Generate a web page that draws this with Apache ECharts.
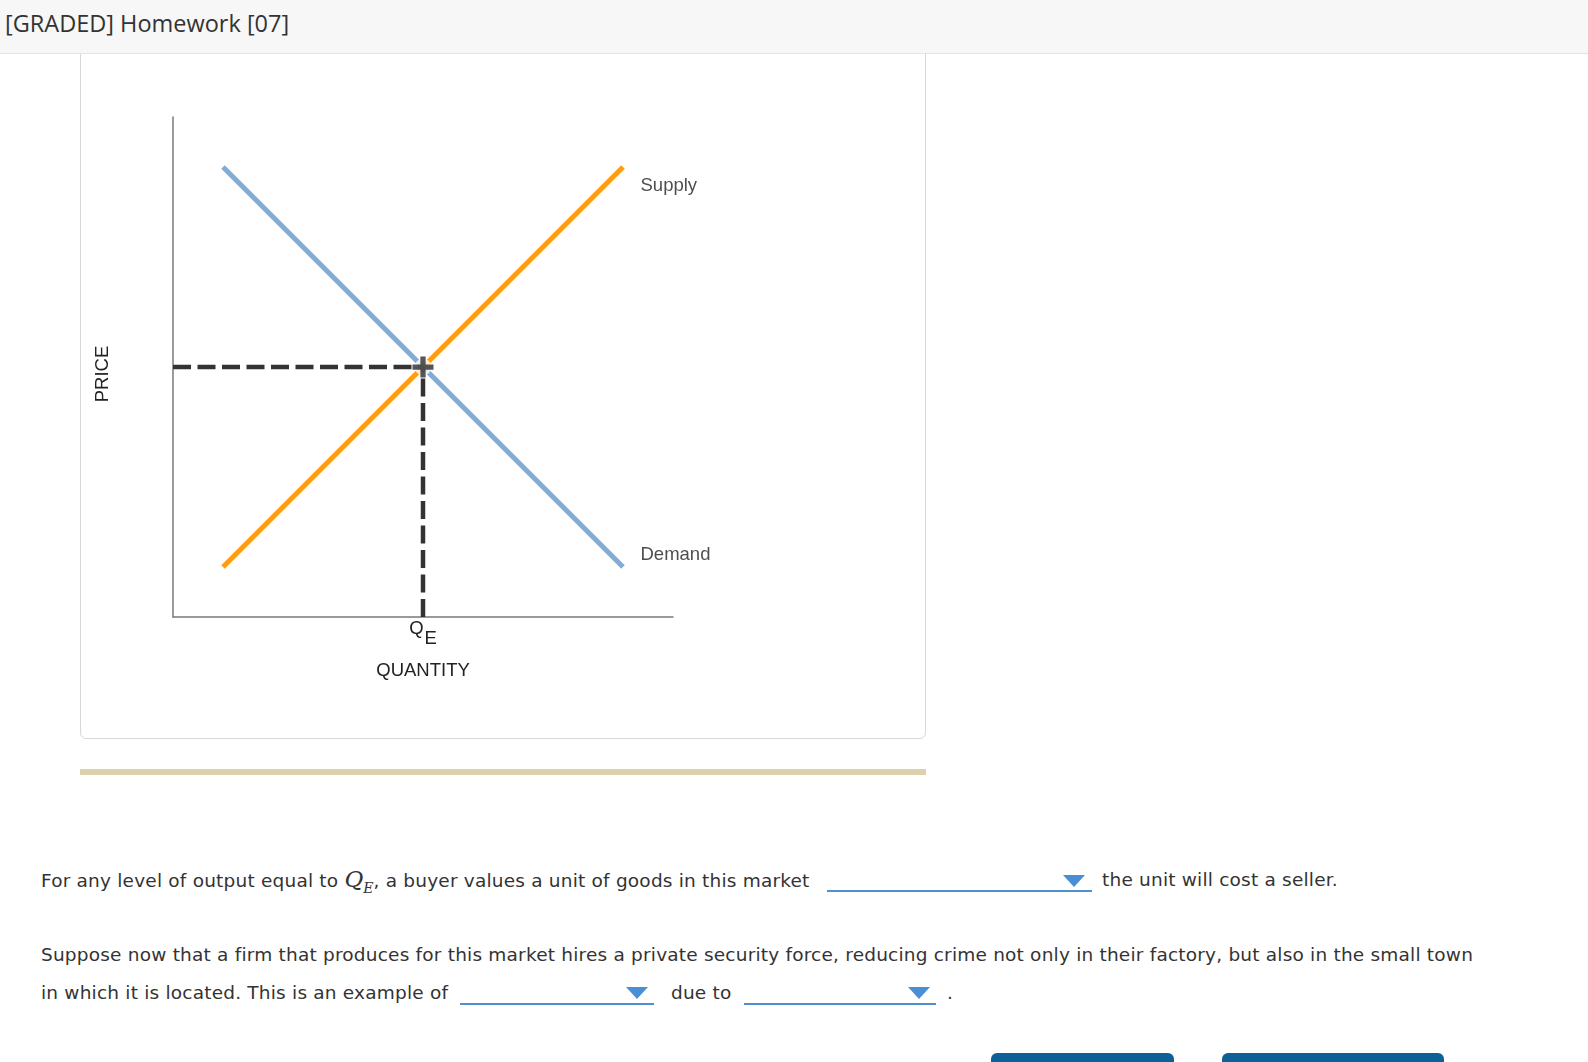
<!DOCTYPE html>
<html>
<head>
<meta charset="utf-8">
<script src="https://cdn.jsdelivr.net/npm/echarts@6/dist/echarts.min.js"></script>
<style>
  html, body { margin:0; padding:0; background:#fff; width:1588px; height:1062px; overflow:hidden; }
  #header { position:absolute; left:0; top:0; width:1588px; height:53px; background:#f7f7f7; border-bottom:1px solid #e3e3e3; z-index:3; }
  #title { position:absolute; left:5px; top:7px; font-family:"Open Sans", sans-serif; font-size:23.5px; color:#333; white-space:nowrap; }
  #card { position:absolute; left:80px; top:-20px; width:844px; height:757px; border:1px solid #d8d8d8; border-radius:6px; background:#fff; z-index:1; }
  #chart { position:absolute; left:0; top:0; width:1588px; height:740px; z-index:2; }
  #bar { position:absolute; left:80px; top:769px; width:846px; height:6px; background:#dbd2ad; }
  .txt { position:absolute; font-family:"DejaVu Sans", Verdana, sans-serif; font-size:18.5px; letter-spacing:0.2px; color:#333; white-space:nowrap; }
  .dd { position:absolute; height:0; border-bottom:2px solid #4d8fcf; }
  .tri { position:absolute; width:0; height:0; border-left:11px solid transparent; border-right:11px solid transparent; border-top:12px solid #4a8fd3; }
  .q { font-family:"DejaVu Serif", "Liberation Serif", serif; font-style:italic; font-size:23px; letter-spacing:0; }
  .q sub { font-size:14px; font-style:italic; }
  .btn { position:absolute; top:1053px; height:20px; background:#0b6198; border-radius:6px 6px 0 0; }
</style>
</head>
<body>
<div id="header"><div id="title">[GRADED] Homework [07]</div></div>
<div id="card"></div>
<div id="chart"></div>
<div id="bar"></div>

<div class="txt" style="left:41px; top:866px;">For any level of output equal to <span class="q">Q<sub>E</sub></span>, a buyer values a unit of goods in this market</div>
<div class="dd" style="left:827px; top:890px; width:265px;"></div>
<div class="tri" style="left:1063px; top:875px;"></div>
<div class="txt" style="left:1102px; top:869px;">the unit will cost a seller.</div>

<div class="txt" style="left:41px; top:944px;">Suppose now that a firm that produces for this market hires a private security force, reducing crime not only in their factory, but also in the small town</div>
<div class="txt" style="left:41px; top:982px;">in which it is located. This is an example of</div>
<div class="dd" style="left:460px; top:1003px; width:194px;"></div>
<div class="tri" style="left:626px; top:987px;"></div>
<div class="txt" style="left:671px; top:982px;">due to</div>
<div class="dd" style="left:744px; top:1003px; width:192px;"></div>
<div class="tri" style="left:908px; top:987px;"></div>
<div class="txt" style="left:947px; top:982px;">.</div>

<div class="btn" style="left:991px; width:183px;"></div>
<div class="btn" style="left:1222px; width:222px;"></div>

<script>
// Data (axis units 0..10)
const supplyPoints = [[1, 1], [9, 9]];
const demandPoints = [[1, 9], [9, 1]];
const equilibrium = [5, 5];
const priceGuide = [[0, 5], [5, 5]];
const quantityGuide = [[5, 0], [5, 5]];
const curveLabelNames = ['Supply', 'Demand'];
const curveLabelPoints = [[9, 9], [9, 1]];
const xTickValues = [5];
const xTickText = ['{q|Q}{e|E}'];

const chart = echarts.init(document.getElementById('chart'), null, { renderer: 'canvas' });
const labelFont = '"Liberation Sans", Arial, sans-serif';
const labelOffsets = [[0, 19], [0, -12]];
chart.setOption({
  animation: false,
  backgroundColor: 'transparent',
  grid: { left: 173, top: 117, width: 500, height: 500, containLabel: false },
  xAxis: {
    type: 'value', min: 0, max: 10,
    name: 'QUANTITY', nameLocation: 'middle', nameGap: 44,
    nameTextStyle: { fontFamily: labelFont, fontSize: 18.5, color: '#222' },
    axisLine: { show: true, lineStyle: { color: '#7a7a7a', width: 1.5 } },
    axisTick: { show: false },
    splitLine: { show: false },
    axisLabel: {
      show: true, customValues: xTickValues, margin: 2,
      formatter: function (v) { const i = xTickValues.indexOf(v); return i >= 0 ? xTickText[i] : ''; },
      rich: {
        q: { fontFamily: labelFont, fontSize: 18.5, color: '#222', lineHeight: 18, verticalAlign: 'top' },
        e: { fontFamily: labelFont, fontSize: 18.5, color: '#222', lineHeight: 18, verticalAlign: 'top', padding: [10, 0, 0, 1] }
      }
    }
  },
  yAxis: {
    type: 'value', min: 0, max: 10,
    name: 'PRICE', nameLocation: 'middle', nameGap: 61,
    nameTextStyle: { fontFamily: labelFont, fontSize: 18.5, color: '#222', padding: [0, 14, 0, 0] },
    axisLine: { show: true, lineStyle: { color: '#7a7a7a', width: 1.5 } },
    axisTick: { show: false },
    axisLabel: { show: false },
    splitLine: { show: false }
  },
  series: [
    { type: 'line', name: 'Demand', data: demandPoints, showSymbol: false, silent: true,
      lineStyle: { color: '#80acd8', width: 5 } },
    { type: 'line', name: 'Supply', data: supplyPoints, showSymbol: false, silent: true,
      lineStyle: { color: '#ff9c0f', width: 5 } },
    { type: 'line', data: priceGuide, showSymbol: false, silent: true,
      lineStyle: { color: '#333', width: 4.5, type: [18, 6.5] } },
    { type: 'line', data: quantityGuide, showSymbol: false, silent: true,
      lineStyle: { color: '#333', width: 4.5, type: [18, 6.5] } },
    // white halo behind the equilibrium cross
    { type: 'scatter', data: [equilibrium], silent: true, z: 4,
      symbol: 'circle', symbolSize: 17, itemStyle: { color: '#fff' } },
    { type: 'scatter', data: [equilibrium], silent: true, z: 5,
      symbol: 'path://M7.5,0 H12.5 V7.5 H20 V12.5 H12.5 V20 H7.5 V12.5 H0 V7.5 H7.5 Z', symbolSize: 21,
      itemStyle: { color: '#2b2b2b' } },
    { type: 'scatter', silent: true, symbolSize: 1, z: 6,
      data: curveLabelNames.map(function (n, i) {
        return { name: n, value: curveLabelPoints[i], label: { offset: labelOffsets[i] } };
      }),
      itemStyle: { color: 'rgba(0,0,0,0)' },
      label: { show: true, position: 'right', distance: 17,
        formatter: function (p) { return p.name; },
        fontFamily: labelFont, fontSize: 18.5, color: '#222' } }
  ]
});
</script>
</body>
</html>
